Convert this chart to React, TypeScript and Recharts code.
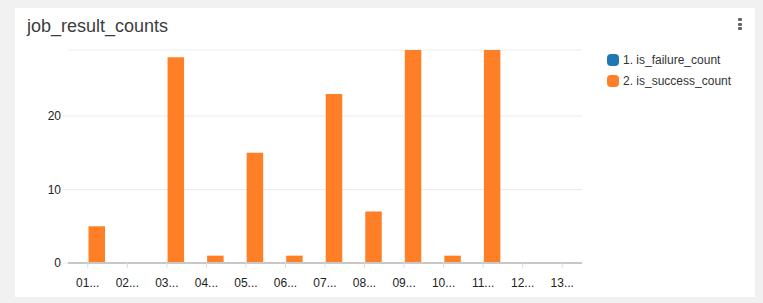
import { Bar, BarChart, CartesianGrid, Legend, XAxis, YAxis } from "recharts";

const categories = ["01...", "02...", "03...", "04...", "05...", "06...", "07...", "08...", "09...", "10...", "11...", "12...", "13..."];
const failureCounts = [0, 0, 0, 0, 0, 0, 0, 0, 0, 0, 0, 0, 0];
const successCounts = [5, 0, 28, 1, 15, 1, 23, 7, 29, 1, 29, 0, 0];
const yTicks = [0, 10, 20];

const FAILURE_COLOR = "#1f77b4";
const SUCCESS_COLOR = "#ff7f27";

const chartData = categories.map((name, i) => ({
  name,
  is_failure_count: failureCounts[i],
  is_success_count: successCounts[i],
}));

function LegendList({ payload }: { payload?: any[] }) {
  return (
    <div>
      {(payload || []).map((entry, i) => (
        <div
          key={entry.value}
          style={{ display: "flex", alignItems: "center", height: 21, fontSize: 12, color: "#333" }}
        >
          <span
            style={{
              width: 12,
              height: 12,
              borderRadius: 4,
              background: entry.color,
              marginRight: 4,
              display: "inline-block",
            }}
          />
          {`${i + 1}. ${entry.value}`}
        </div>
      ))}
    </div>
  );
}

function Kebab() {
  return (
    <div style={{ position: "absolute", left: 738, top: 18, width: 4 }}>
      {[0, 1, 2].map((d) => (
        <div key={d} style={{ width: 4, height: 3, background: "#666", borderRadius: 1, marginBottom: 1.5 }} />
      ))}
    </div>
  );
}

export default function App() {
  return (
    <div
      style={{
        position: "fixed",
        left: 0,
        top: 0,
        width: 763,
        height: 303,
        background: "#f0f1f0",
        fontFamily: "'Liberation Sans', Arial, sans-serif",
        overflow: "hidden",
      }}
    >
      <div
        style={{
          position: "absolute",
          left: 15,
          top: 8,
          width: 740,
          height: 289,
          background: "#fff",
        }}
      />
      <div
        style={{
          position: "absolute",
          left: 27,
          top: 16,
          fontSize: 18,
          color: "#3c3c3c",
        }}
      >
        job_result_counts
      </div>
      <Kebab />
      <div style={{ position: "absolute", left: 0, top: 0 }}>
        <BarChart
          width={763}
          height={303}
          data={chartData}
          margin={{ top: 50, right: 181, bottom: 10, left: 0 }}
          barSize={16.5}
          barGap={2}
        >
          <CartesianGrid vertical={false} stroke="#ebebeb" />
          <XAxis
            dataKey="name"
            height={30}
            interval={0}
            axisLine={{ stroke: "#c8c8c8", strokeWidth: 2 }}
            tickLine={{ stroke: "#dddddd" }}
            tickSize={5}
            tickMargin={10}
            tick={{ fontSize: 12, fill: "#222" }}
          />
          <YAxis
            width={68}
            domain={[0, 29]}
            ticks={yTicks}
            axisLine={false}
            tickLine={{ stroke: "#ebebeb" }}
            tickSize={5}
            tick={{ fontSize: 12, fill: "#222" }}
          />
          <Legend
            layout="vertical"
            align="center"
            verticalAlign="middle"
            wrapperStyle={{ left: 607, top: 49, width: 150 }}
            content={<LegendList />}
          />
          <Bar dataKey="is_failure_count" fill={FAILURE_COLOR} isAnimationActive={false} />
          <Bar dataKey="is_success_count" fill={SUCCESS_COLOR} isAnimationActive={false} />
        </BarChart>
      </div>
    </div>
  );
}
